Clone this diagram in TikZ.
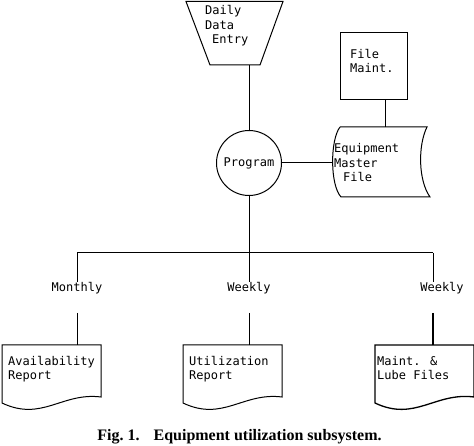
\documentclass[tikz,border=0pt]{standalone}
\usepackage{fontspec}
\setmainfont{Liberation Serif}
\newfontfamily\printfont{DejaVu Sans Mono}
\usetikzlibrary{positioning}

\tikzset{
  flow/.style={line width=1pt},
  lbl/.style={font=\printfont\fontsize{12}{14.5}\selectfont, align=left, inner sep=0pt, anchor=west},
  freq/.style={font=\printfont\fontsize{12}{14.5}\selectfont, inner sep=0pt}
}

\begin{document}
\begin{tikzpicture}[x=1pt,y=-1pt]
\useasboundingbox (0,0) rectangle (474,446);

\draw[flow] (186,1.5) -- (283,1.5) -- (260,65) -- (210,65) -- cycle;
\node[lbl] (entry) at (205,26) {Daily\\Data\\\hspace*{7pt}Entry};
\coordinate (entrybot) at (249,65);

\node[draw,flow,circle,minimum size=65pt,inner sep=0pt,font=\printfont\fontsize{12}{14.5}\selectfont] (prog) at (249,163) {Program};

\node[draw,flow,minimum width=67pt,minimum height=67pt] (fmaint) at (373.5,66.5) {};
\node[lbl] (fmainttxt) at (350,61) {File\\Maint.};

\draw[flow] (340,127) -- (427,127) .. controls (418,145) and (418,180) .. (430,197) -- (341,197) .. controls (330,185) and (330,140) .. (340,127);
\node[lbl] (master) at (334,163) {Equipment\\Master\\\hspace*{9pt}File};
\coordinate (mastertop) at (385,127);
\coordinate (masterin) at (332,163);

\draw[flow] (entrybot) -- (entrybot |- prog.north);
\draw[flow] (prog.east) -- (masterin);
\draw[flow] (fmaint.south -| mastertop) -- (mastertop);

\coordinate (bus) at (249,253);
\coordinate (busl) at (77,253);
\coordinate (busr) at (433,253);
\draw[flow] (prog.south) -- (bus);
\draw[flow] (busl) -- (busr);

\node[freq] (monthly) at (77,288) {Monthly};
\node[freq] (weekly) at (249,288) {Weekly};
\node[freq] (weeklyb) at (442,288) {Weekly};

\draw[flow] (busl) -- (busl |- monthly.north);
\draw[flow] (bus) -- (bus |- weekly.north);
\draw[flow] (busr) -- (busr |- weeklyb.north);

\coordinate (avdrop) at (77,313);
\coordinate (avtop) at (77,345);
\coordinate (utdrop) at (249,313);
\coordinate (uttop) at (249,345);
\coordinate (ludrop) at (433,313);
\coordinate (lutop) at (433,345);

\draw[flow] (avdrop) -- (avtop);
\draw[flow] (utdrop) -- (uttop);
\draw[line width=1.8pt] (ludrop) -- (lutop);

\draw[flow] (2,345) -- (101,345) -- (101,397) .. controls (62,392) and (42,422) .. (2,403) -- cycle;
\draw[flow] (183,345) -- (282,345) -- (282,397) .. controls (243,392) and (223,422) .. (183,403) -- cycle;
\draw[line width=1.3pt] (375,345) -- (474,345) -- (474,397) .. controls (435,392) and (415,422) .. (375,403) -- cycle;

\node[lbl] (avail) at (8,369) {Availability\\Report};
\node[lbl] (util) at (189,369) {Utilization\\Report};
\node[lbl] (lube) at (377,368) {Maint. \&\\Lube Files};

\node[font=\bfseries\fontsize{16}{19}\selectfont, anchor=base, inner sep=0pt] (caption) at (239.5,440) {Fig.~1.\hspace{14pt}Equipment utilization subsystem.};

\end{tikzpicture}
\end{document}
